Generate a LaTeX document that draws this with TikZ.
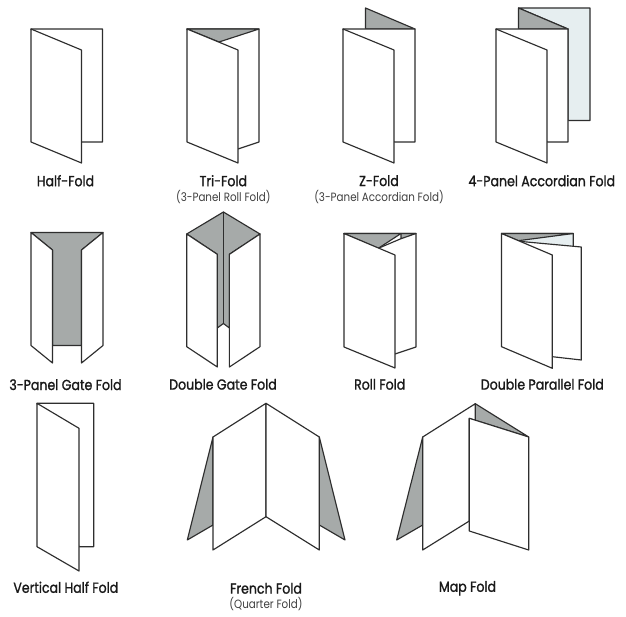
\documentclass[tikz,border=0pt]{standalone}
\usepackage{fontspec}
\setmainfont{Poppins}[FakeStretch=0.86]
\newfontfamily\titlefont{Poppins}[FakeStretch=0.86,FakeBold=1.2]
\definecolor{foldgray}{HTML}{A6AAA9}
\definecolor{foldlight}{HTML}{E6EEF0}
\definecolor{foldline}{HTML}{2E2E2E}
\tikzset{
  sheet/.style={draw=foldline,fill=white,line width=1.15pt,line join=round},
  shade/.style={draw=foldline,fill=foldgray,line width=1.15pt,line join=round},
  pale/.style={draw=foldline,fill=foldlight,line width=1.15pt,line join=round},
  crease/.style={draw=foldline,line width=1.15pt,line cap=round},
  title/.style={inner sep=0pt,font=\titlefont\fontsize{14.6}{17}\selectfont,text=black!90},
  subtitle/.style={inner sep=0pt,font=\fontsize{12}{14}\selectfont,text=black!75}
}
\begin{document}
\begin{tikzpicture}[x=1pt,y=-1pt]
\useasboundingbox (0,0) rectangle (626,617);
\fill[white] (0,0) rectangle (626,617);
% Half-Fold
\path[sheet] (31,29) -- (102.5,29) -- (102.5,142) -- (81.5,142) -- cycle;
\path[sheet] (31,29) -- (81.5,50) -- (81.5,163) -- (31,142) -- cycle;
\node[title] (t1) at (65.5,180.7) {Half-Fold};
% Tri-Fold
\path[sheet] (187,29) -- (259,29) -- (259,142) -- (238,149) -- cycle;
\path[shade] (187,29) -- (259,29) -- (219,42) -- cycle;
\path[sheet] (187,29) -- (238,50) -- (238,163) -- (187,142) -- cycle;
\node[title] (t2) at (223.3,180.7) {Tri-Fold};
\node[subtitle] (s2) at (223.3,196.7) {(3-Panel Roll Fold)};
% Z-Fold
\path[shade] (365.5,8) -- (415,29) -- (365.5,29) -- cycle;
\path[sheet] (343,29) -- (415,29) -- (415,142) -- (394,142) -- cycle;
\path[sheet] (343,29) -- (394,50) -- (394,163) -- (343,142) -- cycle;
\node[title] (t3) at (379,180.7) {Z-Fold};
\node[subtitle] (s3) at (379,196.7) {(3-Panel Accordian Fold)};
% 4-Panel Accordian Fold
\path[pale] (518.5,8) -- (590,8) -- (590,120.5) -- (568,120.5) -- (568,29) -- cycle;
\path[shade] (518.5,8) -- (568,29) -- (518.5,29) -- cycle;
\path[sheet] (496,29) -- (568,29) -- (568,142) -- (547,142) -- cycle;
\path[sheet] (496,29) -- (547,50) -- (547,163) -- (496,142) -- cycle;
\node[title] (t4) at (541.8,180.7) {4-Panel Accordian Fold};
% 3-Panel Gate Fold
\path[shade] (31,232.5) -- (103,232.5) -- (81.5,250) -- (81.5,345.5) -- (52.5,345.5) -- (52.5,250) -- cycle;
\path[sheet] (31,232.5) -- (52.5,250) -- (52.5,363) -- (31,345.5) -- cycle;
\path[sheet] (103,232.5) -- (81.5,250) -- (81.5,363) -- (103,345.5) -- cycle;
\node[title] (t5) at (65.5,384.7) {3-Panel Gate Fold};
% Double Gate Fold
\path[shade] (186.7,234) -- (223.4,212) -- (260,234) -- (229.4,254.3) -- (229.4,328) -- (223.4,323.5) -- (217.3,328) -- (217.3,254.3) -- cycle;
\path[crease] (223.4,212) -- (223.4,323.5);
\path[sheet] (186.7,234) -- (217.3,254.3) -- (217.3,367) -- (186.7,346.7) -- cycle;
\path[sheet] (260,234) -- (229.4,254.3) -- (229.4,367) -- (260,346.7) -- cycle;
\node[title] (t6) at (223,384.3) {Double Gate Fold};
% Roll Fold
\path[sheet] (344,233.5) -- (416,233.5) -- (416,347) -- (395,354) -- cycle;
\path[shade] (344,233.5) -- (401,233.5) -- (378.3,248.3) -- cycle;
\path[shade] (401,233.5) -- (416,233.5) -- (401,238.7) -- cycle;
\path[crease] (378.3,248.3) -- (401,238.7);
\path[sheet] (344,233.5) -- (395,255) -- (395,368) -- (344,347) -- cycle;
\node[title] (t7) at (379.7,384.3) {Roll Fold};
% Double Parallel Fold
\path[pale] (501.5,233.5) -- (573.3,233.5) -- (573.3,247) -- (520,242) -- cycle;
\path[shade] (501.5,233.5) -- (573.3,233.5) -- (518.3,240.7) -- cycle;
\path[sheet] (519,241.3) -- (581.3,247) -- (581.3,360) -- (552.3,356.7) -- cycle;
\path[sheet] (501.5,233.5) -- (552.3,255) -- (552.3,368.3) -- (501.5,346.7) -- cycle;
\node[title] (t8) at (542.3,384.3) {Double Parallel Fold};
% Vertical Half Fold
\path[sheet] (37,403.3) -- (93.7,403.3) -- (93.7,546.7) -- (79,546.7) -- cycle;
\path[sheet] (37,403.3) -- (79,428.3) -- (79,571) -- (37,546.7) -- cycle;
\node[title] (t9) at (65.8,587.3) {Vertical Half Fold};
% French Fold
\path[shade] (213,437) -- (187.3,540) -- (213,525) -- cycle;
\path[shade] (319.3,437) -- (345,540) -- (319.3,525) -- cycle;
\path[sheet] (213,437) -- (266,403.3) -- (266,516.7) -- (213,550) -- cycle;
\path[sheet] (319.3,437) -- (266,403.3) -- (266,516.7) -- (319.3,550) -- cycle;
\node[title] (t10) at (266,588.3) {French Fold};
\node[subtitle] (s10) at (266,604) {(Quarter Fold)};
% Map Fold
\path[shade] (422.7,437) -- (396.7,540) -- (422.7,525) -- cycle;
\path[shade] (475.3,403.7) -- (528.7,437) -- (475.3,420.3) -- cycle;
\path[sheet] (422.7,437) -- (475.3,403.7) -- (475.3,420.3) -- (469.3,418.3) -- (469.3,521) -- (422.7,550) -- cycle;
\path[sheet] (469.3,418.3) -- (528.7,437) -- (528.7,550) -- (469.3,531) -- cycle;
\node[title] (t11) at (467.5,588.3) {Map Fold};
\end{tikzpicture}
\end{document}
